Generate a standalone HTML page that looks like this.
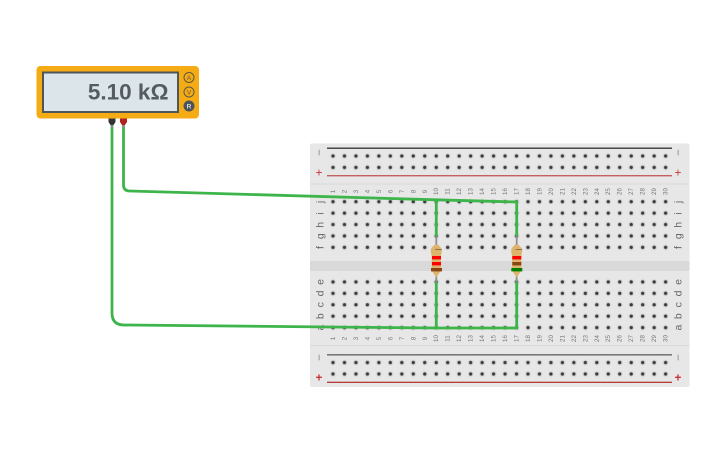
<!DOCTYPE html>
<html><head><meta charset="utf-8"><style>
html,body{margin:0;padding:0;background:#fff}
svg{display:block}
text{font-family:"Liberation Sans",sans-serif}
.n text{font-size:6.2px;fill:#777;text-anchor:middle}
.l text{font-size:10.5px;fill:#666;text-anchor:middle}
.w{fill:none;stroke:#3db54a;stroke-width:2.8}
</style></head><body>
<svg width="725" height="453" viewBox="0 0 725 453" xmlns="http://www.w3.org/2000/svg">
<defs>
<radialGradient id="h"><stop offset="0.45" stop-color="#c4c4c4"/><stop offset="1" stop-color="#e6e6e6" stop-opacity="0"/></radialGradient>
<pattern id="p" patternUnits="userSpaceOnUse" x="327.27" y="150.3" width="11.47" height="11.42">
<circle cx="5.73" cy="5.71" r="3.8" fill="url(#h)"/><circle cx="5.73" cy="5.71" r="1.6" fill="#3a3a3a"/>
</pattern>
<g id="res">
<rect x="-0.9" y="-9" width="1.8" height="9" fill="#8f8f8f"/>
<rect x="-0.9" y="30" width="1.8" height="8" fill="#8f8f8f"/>
<path d="M-1.5 0 C-3 2 -5.5 3 -5.5 6 C-5.5 9 -4.6 10 -4.6 12 L-4.6 24 C-4.6 27 -2 30 0 33 C2 30 4.6 27 4.6 24 L4.6 12 C4.6 10 5.5 9 5.5 6 C5.5 3 3 2 1.5 0Z" fill="#deb36c"/>
<rect x="-1" y="4.5" width="6.5" height="1" fill="#8a7346"/>
</g>
</defs>

<!-- breadboard -->
<rect x="310" y="143.5" width="379.5" height="243.5" rx="2" fill="#e7e7e7"/>
<rect x="310" y="183.5" width="379.5" height="1" fill="#d8d8d8"/>
<rect x="310" y="345" width="379.5" height="1" fill="#d8d8d8"/>
<rect x="310" y="261" width="379.5" height="10" fill="#d9d9d9"/>
<rect x="327.27" y="150.3" width="344.1" height="22.84" fill="url(#p)"/>
<rect x="327.27" y="196" width="344.1" height="57.1" fill="url(#p)"/>
<rect x="327.27" y="276.3" width="344.1" height="57.1" fill="url(#p)" transform="translate(0,0.3)"/>
<rect x="327.27" y="356" width="344.1" height="22.84" fill="url(#p)" transform="translate(0,1)"/>
<rect x="327" y="147.600" width="345" height="1.200" fill="#222"/>
<rect x="327" y="175" width="345" height="1.400" fill="#c46060"/>
<rect x="327" y="354" width="345" height="1.600" fill="#777"/>
<rect x="327" y="381.700" width="345" height="1.200" fill="#b02a2a"/>
<g font-size="11.500" text-anchor="middle">
<text transform="translate(323,152.500) rotate(-90)" fill="#888">−</text><text transform="translate(682,152.500) rotate(-90)" fill="#888">−</text>
<text x="319" y="176.500" fill="#c83232">+</text><text x="678" y="176.500" fill="#c83232">+</text>
<text transform="translate(323,357.500) rotate(-90)" fill="#888">−</text><text transform="translate(682,357.500) rotate(-90)" fill="#888">−</text>
<text x="319" y="381.500" fill="#c83232" font-weight="bold">+</text><text x="678" y="381.500" fill="#c83232" font-weight="bold">+</text>
</g>
<g class="n">
<text transform="translate(335,191.500) rotate(-90)">1</text><text transform="translate(346.5,191.500) rotate(-90)">2</text><text transform="translate(358,191.500) rotate(-90)">3</text><text transform="translate(369.4,191.500) rotate(-90)">4</text><text transform="translate(380.9,191.500) rotate(-90)">5</text><text transform="translate(392.4,191.500) rotate(-90)">6</text><text transform="translate(403.8,191.500) rotate(-90)">7</text><text transform="translate(415.3,191.500) rotate(-90)">8</text><text transform="translate(426.8,191.500) rotate(-90)">9</text><text transform="translate(438.2,191.500) rotate(-90)">10</text><text transform="translate(449.7,191.500) rotate(-90)">11</text><text transform="translate(461.2,191.500) rotate(-90)">12</text><text transform="translate(472.6,191.500) rotate(-90)">13</text><text transform="translate(484.1,191.500) rotate(-90)">14</text><text transform="translate(495.6,191.500) rotate(-90)">15</text><text transform="translate(507,191.500) rotate(-90)">16</text><text transform="translate(518.5,191.500) rotate(-90)">17</text><text transform="translate(530,191.500) rotate(-90)">18</text><text transform="translate(541.4,191.500) rotate(-90)">19</text><text transform="translate(552.9,191.500) rotate(-90)">20</text><text transform="translate(564.4,191.500) rotate(-90)">21</text><text transform="translate(575.8,191.500) rotate(-90)">22</text><text transform="translate(587.3,191.500) rotate(-90)">23</text><text transform="translate(598.8,191.500) rotate(-90)">24</text><text transform="translate(610.2,191.500) rotate(-90)">25</text><text transform="translate(621.7,191.500) rotate(-90)">26</text><text transform="translate(633.2,191.500) rotate(-90)">27</text><text transform="translate(644.6,191.500) rotate(-90)">28</text><text transform="translate(656.1,191.500) rotate(-90)">29</text><text transform="translate(667.6,191.500) rotate(-90)">30</text>
<text transform="translate(335,338.500) rotate(-90)">1</text><text transform="translate(346.5,338.500) rotate(-90)">2</text><text transform="translate(358,338.500) rotate(-90)">3</text><text transform="translate(369.4,338.500) rotate(-90)">4</text><text transform="translate(380.9,338.500) rotate(-90)">5</text><text transform="translate(392.4,338.500) rotate(-90)">6</text><text transform="translate(403.8,338.500) rotate(-90)">7</text><text transform="translate(415.3,338.500) rotate(-90)">8</text><text transform="translate(426.8,338.500) rotate(-90)">9</text><text transform="translate(438.2,338.500) rotate(-90)">10</text><text transform="translate(449.7,338.500) rotate(-90)">11</text><text transform="translate(461.2,338.500) rotate(-90)">12</text><text transform="translate(472.6,338.500) rotate(-90)">13</text><text transform="translate(484.1,338.500) rotate(-90)">14</text><text transform="translate(495.6,338.500) rotate(-90)">15</text><text transform="translate(507,338.500) rotate(-90)">16</text><text transform="translate(518.5,338.500) rotate(-90)">17</text><text transform="translate(530,338.500) rotate(-90)">18</text><text transform="translate(541.4,338.500) rotate(-90)">19</text><text transform="translate(552.9,338.500) rotate(-90)">20</text><text transform="translate(564.4,338.500) rotate(-90)">21</text><text transform="translate(575.8,338.500) rotate(-90)">22</text><text transform="translate(587.3,338.500) rotate(-90)">23</text><text transform="translate(598.8,338.500) rotate(-90)">24</text><text transform="translate(610.2,338.500) rotate(-90)">25</text><text transform="translate(621.7,338.500) rotate(-90)">26</text><text transform="translate(633.2,338.500) rotate(-90)">27</text><text transform="translate(644.6,338.500) rotate(-90)">28</text><text transform="translate(656.1,338.500) rotate(-90)">29</text><text transform="translate(667.6,338.500) rotate(-90)">30</text>
</g>
<g class="l">
<text transform="translate(323.500,202) rotate(-90)">j</text><text transform="translate(323.500,213.400) rotate(-90)">i</text><text transform="translate(323.500,224.800) rotate(-90)">h</text><text transform="translate(323.500,236.200) rotate(-90)">g</text><text transform="translate(323.500,247.600) rotate(-90)">f</text>
<text transform="translate(323.500,282) rotate(-90)">e</text><text transform="translate(323.500,293.400) rotate(-90)">d</text><text transform="translate(323.500,304.800) rotate(-90)">c</text><text transform="translate(323.500,316.200) rotate(-90)">b</text><text transform="translate(323.500,327.600) rotate(-90)">a</text>
<text transform="translate(681.500,202) rotate(-90)">j</text><text transform="translate(681.500,213.400) rotate(-90)">i</text><text transform="translate(681.500,224.800) rotate(-90)">h</text><text transform="translate(681.500,236.200) rotate(-90)">g</text><text transform="translate(681.500,247.600) rotate(-90)">f</text>
<text transform="translate(681.500,282) rotate(-90)">e</text><text transform="translate(681.500,293.400) rotate(-90)">d</text><text transform="translate(681.500,304.800) rotate(-90)">c</text><text transform="translate(681.500,316.200) rotate(-90)">b</text><text transform="translate(681.500,327.600) rotate(-90)">a</text>
</g>

<!-- resistors -->
<use href="#res" x="436.300" y="244.500"/>
<rect x="432" y="256" width="9" height="3.400" fill="#f00"/>
<rect x="432" y="262" width="9" height="3.400" fill="#f00"/>
<rect x="431" y="268" width="11" height="3.400" fill="#8b4513"/>
<use href="#res" x="516.700" y="244.500"/>
<rect x="512.300" y="256" width="9" height="3.400" fill="#f00"/>
<rect x="512.300" y="262" width="9" height="3.400" fill="#8b4513"/>
<rect x="511.300" y="268" width="11" height="3.400" fill="#008000"/>

<!-- wires -->
<path class="w" d="M123.500 125 V185 Q123.500 191 130 191 L436 199.800 L516.700 202 V236"/>
<path class="w" d="M436.300 199.800 V236"/>
<path class="w" d="M112 125 V313 Q112 325 124 325 L436.300 328 H516.700 V282"/>
<path class="w" d="M436.300 328 V282"/>

<!-- multimeter -->
<rect x="36.500" y="66" width="162.500" height="52.500" rx="4" fill="#f5ab14"/>
<rect x="43" y="72.500" width="135" height="39.500" fill="#dce6ea" stroke="#4d5658" stroke-width="2"/>
<text x="168.500" y="99.300" font-size="22.500" font-weight="bold" fill="#555c60" text-anchor="end">5.10 kΩ</text>
<g font-size="6.500" text-anchor="middle">
<circle cx="189" cy="77.500" r="5" fill="none" stroke="#5a5a45" stroke-width="1"/><text x="189" y="80" fill="#5a5a45">A</text>
<circle cx="189" cy="92" r="5" fill="none" stroke="#5a5a45" stroke-width="1"/><text x="189" y="94.500" fill="#5a5a45">V</text>
<circle cx="189" cy="106" r="5.500" fill="#4d5356"/><text x="189" y="108.500" fill="#ddd" font-weight="bold">R</text>
</g>
<path d="M108.500 118.500 H115.500 V122 L113.500 125 H110.500 L108.500 122Z" fill="#333"/>
<path d="M120 118.500 H127 V122 L125 125 H122 L120 122Z" fill="#b3211c"/>
<rect x="111" y="125" width="2" height="3" fill="#888"/>
<rect x="122.500" y="125" width="2" height="3" fill="#888"/>
</svg>
</body></html>
